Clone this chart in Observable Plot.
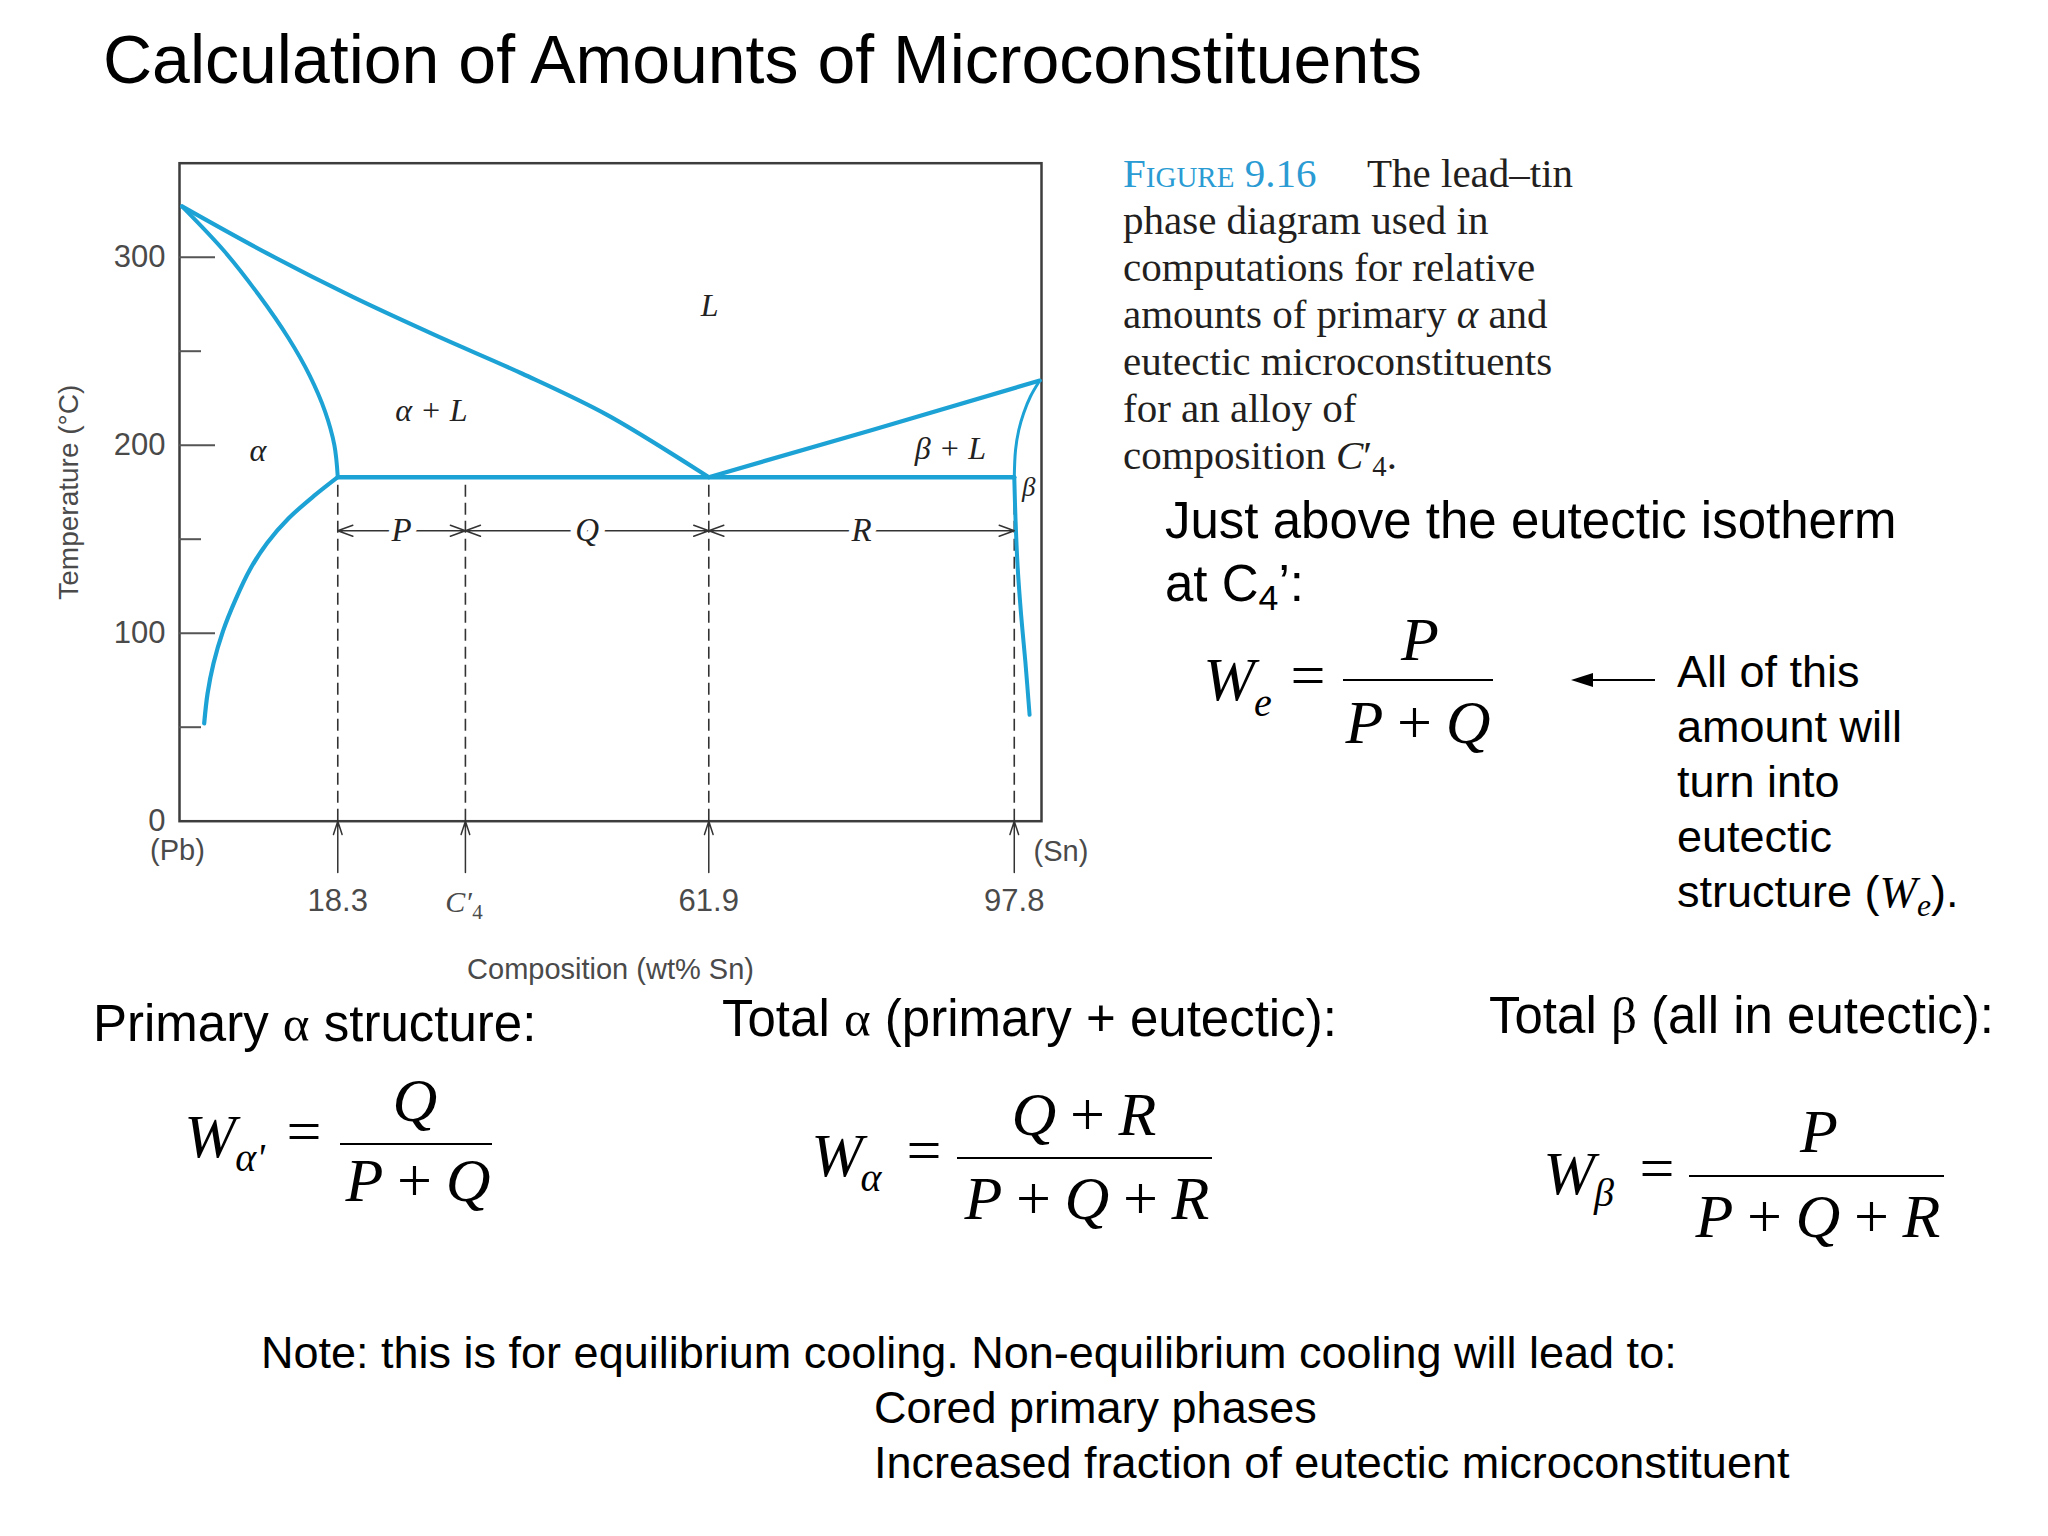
<!DOCTYPE html>
<html>
<head>
<meta charset="utf-8">
<script src="https://cdn.jsdelivr.net/npm/d3@7"></script>
<script src="https://cdn.jsdelivr.net/npm/@observablehq/plot@0.6"></script>
<style>
  html, body { margin: 0; padding: 0; background: #fff; }
  #page { position: relative; width: 2048px; height: 1536px; overflow: hidden; background: #fff;
          font-family: "Liberation Sans", Arial, sans-serif; color: #000; }
  .t { position: absolute; white-space: nowrap; line-height: 1; }
  .c { transform: translate(-50%, -50%); }
  .serif { font-family: "Liberation Serif", "Times New Roman", serif; }
  .it { font-style: italic; }
  .op { font-style: normal; margin: 0 0.22em; }
  .gr { font-family: "Liberation Serif", "Times New Roman", serif; }
  .bar { position: absolute; background: #000; height: 2.5px; }
  #chart { position: absolute; left: 0; top: 100px; }
  #caption { position: absolute; left: 1123px; top: 150px; font-family: "Liberation Serif", "Times New Roman", serif;
             font-size: 41px; line-height: 47px; color: #231f20; white-space: nowrap; }
  #caption .fig { display: inline-block; width: 244px; color: #2b9bd3; font-variant: small-caps; }
</style>
</head>
<body>
<div id="page">
  <div class="t" style="left:103px; top:25px; font-size:68px;">Calculation of Amounts of Microconstituents</div>

  <div id="caption">
    <div><span class="fig">Figure 9.16</span>The lead–tin</div>
    <div>phase diagram used in</div>
    <div>computations for relative</div>
    <div>amounts of primary <i>α</i> and</div>
    <div>eutectic microconstituents</div>
    <div>for an alloy of</div>
    <div>composition <i>C</i>′<sub style="font-size:0.7em; vertical-align:-0.25em;">4</sub>.</div>
  </div>

  <div class="t" style="left:1165px; top:495px; font-size:51px;">Just above the eutectic isotherm</div>
  <div class="t" style="left:1165px; top:558px; font-size:51px;">at C<sub style="font-size:0.7em; vertical-align:-0.25em;">4</sub>’:</div>

  <div class="t" style="left:1677px; top:644px; font-size:45px; line-height:55px;">
    All of this<br>amount will<br>turn into<br>eutectic<br>structure (<span class="serif it">W<span style="font-size:0.7em; position:relative; top:0.3em;">e</span></span>).
  </div>

  <div style="position:absolute; left:1590px; top:678.5px; width:65px; height:2.5px; background:#000;"></div>
  <div style="position:absolute; left:1571px; top:672.5px; width:0; height:0; border-top:7px solid transparent; border-bottom:7px solid transparent; border-right:22px solid #000;"></div>

  <div class="t" style="left:93px; top:998px; font-size:51px;">Primary <span class="gr">α</span> structure:</div>
  <div class="t" style="left:722px; top:993px; font-size:51px;">Total <span class="gr">α</span> (primary + eutectic):</div>
  <div class="t" style="left:1489px; top:990px; font-size:51px;">Total <span class="gr">β</span> (all in eutectic):</div>

  <div class="t" style="left:261px; top:1330px; font-size:45px;">Note: this is for equilibrium cooling. Non-equilibrium cooling will lead to:</div>
  <div class="t" style="left:874px; top:1385px; font-size:45px;">Cored primary phases</div>
  <div class="t" style="left:874px; top:1440px; font-size:45px;">Increased fraction of eutectic microconstituent</div>

  <div id="chart"></div>
</div>

<script>
// ---------------- data ----------------
const xDomain = [-0.3, 101];            // wt% Sn covered by the drawn frame
const yDomain = [0, 350];               // temperature, °C
const yLabelTicks = [0, 100, 200, 300];
const yMajorTicks = [100, 200, 300];
const yMinorTicks = [50, 150, 250];
const eutecticT = 183;
const markerValues = [18.3, 61.9, 97.8];     // labelled compositions
const c4Value = 33.3;                         // C'4 composition as drawn
const markerArrowFromT = -27.3;               // marker arrows start below the axis
const dimensionRowT = 154.5;                  // temperature of the P / Q / R dimension row
const dimensionLabels = ["P", "Q", "R"];

// phase boundaries: composition (wt% Sn) and temperature (°C)
const alphaLiquidusX = [0, 10, 20, 30, 40, 50, 61.9];
const alphaLiquidusT = [327, 302, 279, 258, 238, 216, 183];
const alphaSolidusX = [0, 5, 9, 12.5, 15, 16.8, 17.9, 18.3];
const alphaSolidusT = [327, 303, 280, 257, 237, 218, 200, 183];
const alphaSolvusX = [18.3, 15.5, 12.5, 10, 8, 6.3, 4.8, 3.7, 3.0, 2.6];
const alphaSolvusT = [183, 173, 161, 148, 134, 118, 101, 84, 68, 52];
const betaLiquidusX = [61.9, 81, 100.8];
const betaLiquidusT = [183, 208, 234.4];
const betaSolidusX = [100.8, 99.7, 98.9, 98.33, 97.95, 97.8];
const betaSolidusT = [234.4, 225.9, 217, 208.1, 197.5, 183];
const betaSolvusX = [97.8, 97.95, 98.2, 98.6, 99.1, 99.6];
const betaSolvusT = [183, 160, 135, 110, 85, 56.6];
const eutecticX = [18.3, 97.8];

// phase-region labels
const regionText = ["α", "α + L", "L", "β + L", "β"];
const regionX = [8.9, 29.3, 62.0, 90.3, 99.5];
const regionT = [197, 218.2, 274.2, 198.1, 177.8];

// ---------------- build ----------------
const pts = (xs, ts) => xs.map((x, i) => ({x, t: ts[i]}));
const blue = "#1ca2d5";
const ink = "#333";
const grey = "#4a4a4a";
const frameWidthPx = 1041 - 179;

const bounds = [markerValues[0], c4Value, markerValues[1], markerValues[2]];
const segments = dimensionLabels.map((label, i) => ({label, a: bounds[i], b: bounds[i + 1], mid: (bounds[i] + bounds[i + 1]) / 2}));
const dimArrows = segments.flatMap(s => [{from: s.mid, to: s.a}, {from: s.mid, to: s.b}]);
const regions = regionText.map((text, i) => ({text, x: regionX[i], t: regionT[i]}));
const allMarkers = [markerValues[0], c4Value, markerValues[1], markerValues[2]];

const serif = "Liberation Serif, Times New Roman, serif";

const chart = Plot.plot({
  width: 1120,
  height: 900,
  marginLeft: 179,
  marginRight: 79,
  marginTop: 62.7,
  marginBottom: 179.3,
  style: {fontFamily: "Liberation Sans, Arial, sans-serif", fontSize: "31px", color: grey, background: "transparent", overflow: "visible"},
  x: {domain: xDomain, ticks: markerValues, tickFormat: d => d.toFixed(1), tickSize: 0, tickPadding: 68, label: null},
  y: {domain: yDomain, ticks: yLabelTicks, tickSize: 0, tickPadding: 14, label: null},
  marks: [
    Plot.frame({stroke: "#3d3d3d", strokeWidth: 2.5}),
    Plot.tickY(yMajorTicks, {y: d => d, insetRight: frameWidthPx - 36, stroke: "#555", strokeWidth: 2}),
    Plot.tickY(yMinorTicks, {y: d => d, insetRight: frameWidthPx - 22, stroke: "#555", strokeWidth: 2}),
    // dashed composition lines
    Plot.ruleX(allMarkers, {x: d => d, y1: 0, y2: eutecticT, stroke: ink, strokeWidth: 1.6, strokeDasharray: "12,6"}),
    // marker arrows under the axis
    Plot.arrow(allMarkers, {x1: d => d, x2: d => d, y1: markerArrowFromT, y2: 0, stroke: ink, strokeWidth: 1.5, headLength: 14, headAngle: 36}),
    // phase boundaries
    Plot.line(pts(alphaLiquidusX, alphaLiquidusT), {x: "x", y: "t", stroke: blue, strokeWidth: 4.2, curve: "catmull-rom"}),
    Plot.line(pts(alphaSolidusX, alphaSolidusT), {x: "x", y: "t", stroke: blue, strokeWidth: 4, curve: "catmull-rom"}),
    Plot.line(pts(alphaSolvusX, alphaSolvusT), {x: "x", y: "t", stroke: blue, strokeWidth: 4.2, curve: "catmull-rom"}),
    Plot.line(pts(betaLiquidusX, betaLiquidusT), {x: "x", y: "t", stroke: blue, strokeWidth: 4.2}),
    Plot.line(pts(betaSolidusX, betaSolidusT), {x: "x", y: "t", stroke: blue, strokeWidth: 3, curve: "catmull-rom"}),
    Plot.line(pts(betaSolvusX, betaSolvusT), {x: "x", y: "t", stroke: blue, strokeWidth: 4, curve: "catmull-rom"}),
    Plot.line(pts(eutecticX, [eutecticT, eutecticT]), {x: "x", y: "t", stroke: blue, strokeWidth: 4.5}),
    // P / Q / R dimension arrows
    Plot.arrow(dimArrows, {x1: "from", x2: "to", y1: dimensionRowT, y2: dimensionRowT, stroke: ink, strokeWidth: 1.5, headLength: 16, headAngle: 40}),
    Plot.text(segments, {x: "mid", y: dimensionRowT, text: "label", fontFamily: serif, fontStyle: "italic", fontSize: 33,
                         fill: "#222", stroke: "white", strokeWidth: 13, paintOrder: "stroke"}),
    // region labels
    Plot.text(regions.filter(d => d.text !== "β"), {x: "x", y: "t", text: "text", fontFamily: serif, fontStyle: "italic", fontSize: 32, fill: "#222"}),
    Plot.text(regions.filter(d => d.text === "β"), {x: "x", y: "t", text: "text", fontFamily: serif, fontStyle: "italic", fontSize: 27, fill: "#222"}),
    // C'4 label
    Plot.text([c4Value], {x: d => d, y: 0, text: () => "C′", dx: -7, dy: 81, fontFamily: serif, fontStyle: "italic", fontSize: 30, fill: grey}),
    Plot.text([c4Value], {x: d => d, y: 0, text: () => "4", dx: 12, dy: 91, fontFamily: serif, fontSize: 21, fill: grey}),
    // end labels & axis titles
    Plot.text(["(Pb)"], {text: d => d, frameAnchor: "bottom-left", textAnchor: "middle", dx: -2, dy: 39, fontSize: 29, fill: grey}),
    Plot.text(["(Sn)"], {text: d => d, frameAnchor: "bottom-right", textAnchor: "start", dx: -8, dy: 40, fontSize: 29, fill: grey}),
    Plot.text(["Temperature (°C)"], {text: d => d, frameAnchor: "left", textAnchor: "middle", dx: -110, rotate: -90, fontSize: 28, fill: grey}),
    Plot.text(["Composition (wt% Sn)"], {text: d => d, frameAnchor: "bottom", textAnchor: "middle", dy: 158, fontSize: 29, fill: grey})
  ]
});
document.getElementById("chart").appendChild(chart);

// ---------------- formulas (HTML text) ----------------
const page = document.getElementById("page");
function piece(html, cx, cy, size, italic = true) {
  const el = document.createElement("div");
  el.className = "t c serif" + (italic ? " it" : "");
  el.style.left = cx + "px";
  el.style.top = cy + "px";
  el.style.fontSize = size + "px";
  el.innerHTML = html;
  page.appendChild(el);
}
function bar(x1, x2, y) {
  const el = document.createElement("div");
  el.className = "bar";
  el.style.left = x1 + "px";
  el.style.width = (x2 - x1) + "px";
  el.style.top = (y - 1.25) + "px";
  page.appendChild(el);
}
const F = 62, S = 40;
const plus = '<span class="op">+</span>';
const PQ = "P" + plus + "Q", PQR = "P" + plus + "Q" + plus + "R", QR = "Q" + plus + "R";

// W_e
piece("W", 1229, 679, F); piece("e", 1263, 703, S); piece("=", 1308, 675, F, false);
bar(1343, 1493, 680); piece("P", 1420, 639, F); piece(PQ, 1418, 722, F);
// W_alpha'
piece("W", 210, 1136, F); piece("α'", 250, 1158, S); piece("=", 304, 1131, F, false);
bar(340, 492, 1144); piece("Q", 415, 1100, F); piece(PQ, 418, 1180, F);
// W_alpha
piece("W", 837, 1155, F); piece("α", 871, 1178, S); piece("=", 924, 1150, F, false);
bar(957, 1212, 1158); piece(QR, 1084, 1114, F); piece(PQR, 1087, 1198, F);
// W_beta
piece("W", 1569, 1173, F); piece("β", 1604, 1193, S); piece("=", 1657, 1168, F, false);
bar(1689, 1944, 1176); piece("P", 1819, 1131, F); piece(PQR, 1818, 1216, F);
</script>
</body>
</html>
